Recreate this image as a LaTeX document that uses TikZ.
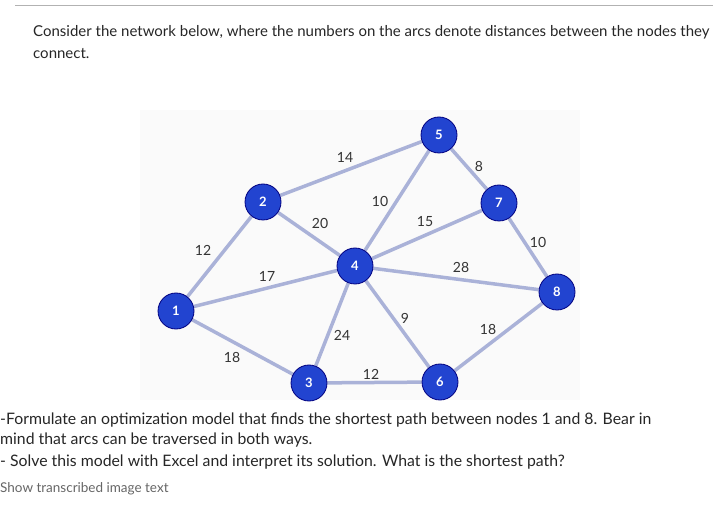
\documentclass[tikz,border=0pt]{standalone}
\usepackage{fontspec}
\setmainfont{Lato}
\usetikzlibrary{backgrounds}
\definecolor{nodeblue}{HTML}{2244D0}
\definecolor{edgeblue}{HTML}{AAB2D8}
\begin{document}
\begin{tikzpicture}[x=1pt,y=-1pt,
  nd/.style={circle,fill=nodeblue,draw=blue!50!black,line width=0.8pt,minimum size=36pt,inner sep=0pt,text=white,font=\bfseries\fontsize{13}{15}\selectfont},
  ed/.style={draw=edgeblue,line width=3.5pt},
  lb/.style={font=\fontsize{14}{16}\selectfont,text=black!80},
  tx/.style={anchor=west,font=\fontsize{15}{18}\selectfont,text=black!85,inner sep=0pt}]
\useasboundingbox (0,0) rectangle (713,513);
\draw[gray!60,line width=0.6pt] (15,5) -- (713,5);
\node[tx] (t1) at (33,32) {Consider the network below, where the numbers on the arcs denote distances between the nodes they};
\node[tx] (t2) at (33,54) {connect.};
\node[nd] (n1) at (176,311) {1};
\node[nd] (n2) at (263,202) {2};
\node[nd] (n3) at (309,383) {3};
\node[nd] (n4) at (355,266) {4};
\node[nd] (n5) at (439,135) {5};
\node[nd] (n6) at (440,382) {6};
\node[nd] (n7) at (499,203) {7};
\node[nd] (n8) at (557,292) {8};
\begin{scope}[on background layer]
\fill[gray!4] (140,110) rectangle (580,400);
\foreach \a/\b in {1/2,1/4,1/3,2/5,2/4,4/5,4/7,4/8,4/3,4/6,3/6,5/7,7/8,6/8}
  \path[ed] (n\a) -- (n\b);
\end{scope}
\node[lb] (l1) at (345,157) {14};
\node[lb] (l2) at (380,201) {10};
\node[lb] (l3) at (320,223) {20};
\node[lb] (l4) at (425,222) {15};
\node[lb] (l5) at (203,250) {12};
\node[lb] (l6) at (267,276) {17};
\node[lb] (l7) at (461,267) {28};
\node[lb] (l8) at (479,166) {8};
\node[lb] (l9) at (538,242) {10};
\node[lb] (l10) at (405,318) {9};
\node[lb] (l11) at (342,335) {24};
\node[lb] (l12) at (232,357) {18};
\node[lb] (l13) at (371,374) {12};
\node[lb] (l14) at (488,329) {18};
\node[tx,font=\fontsize{15.8}{18}\selectfont] (b1) at (0,420) {-Formulate an optimization model that finds the shortest path between nodes 1 and 8. Bear in};
\node[tx,font=\fontsize{15.8}{18}\selectfont] (b2) at (0,440) {mind that arcs can be traversed in both ways.};
\node[tx,font=\fontsize{15.8}{18}\selectfont] (b3) at (0,462) {- Solve this model with Excel and interpret its solution. What is the shortest path?};
\node[tx,text=gray!80!black,font=\fontsize{13.5}{16}\selectfont] (b4) at (0,489) {Show transcribed image text};
\end{tikzpicture}
\end{document}
